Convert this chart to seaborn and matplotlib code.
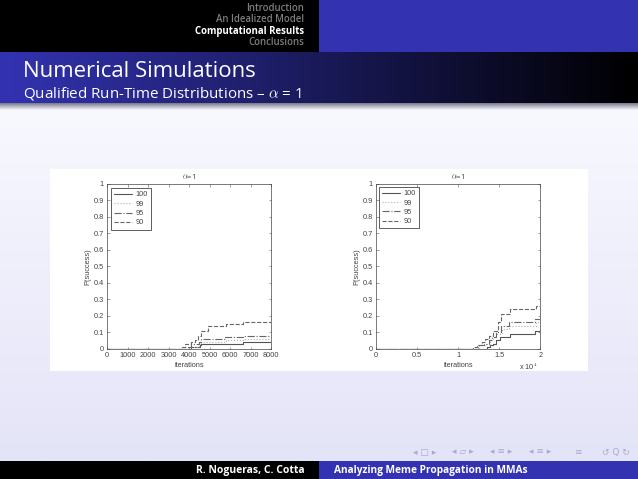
import numpy as np
import pandas as pd
import matplotlib
matplotlib.use("Agg")
import matplotlib.pyplot as plt
from matplotlib.patches import Rectangle
from matplotlib.colors import LinearSegmentedColormap
import seaborn as sns

sns.set_theme(style="white")
plt.rcParams['font.family'] = ['Open Sans', 'DejaVu Sans']
plt.rcParams['mathtext.fontset'] = 'cm'

nav_sections = ["Introduction", "An Idealized Model", "Computational Results", "Conclusions"]
slide_title = "Numerical Simulations"
slide_subtitle = r"Qualified Run-Time Distributions – $\alpha$ = 1"
footer_left = "R. Nogueras, C. Cotta"
footer_right = "Analyzing Meme Propagation in MMAs"

series_names = ["100", "99", "95", "90"]
series_styles = ["-", ":", "-.", "--"]
yticks = [0, .1, .2, .3, .4, .5, .6, .7, .8, .9, 1]
ytick_labels = ["0", "0.1", "0.2", "0.3", "0.4", "0.5", "0.6", "0.7", "0.8", "0.9", "1"]

left_x_100 = [0, 4100, 4550, 4600, 6600, 8000]
left_y_100 = [0, 0.01, 0.02, 0.03, 0.04, 0.04]
left_x_99 = [0, 4000, 4500, 4600, 5800, 6600, 8000]
left_y_99 = [0, 0.01, 0.03, 0.04, 0.05, 0.06, 0.06]
left_x_95 = [0, 3800, 4100, 4500, 4600, 5750, 6600, 8000]
left_y_95 = [0, 0.01, 0.03, 0.04, 0.06, 0.07, 0.08, 0.08]
left_x_90 = [0, 3650, 3800, 4100, 4300, 4450, 4600, 4900, 5800, 6600, 8000]
left_y_90 = [0, 0.01, 0.03, 0.04, 0.05, 0.08, 0.11, 0.14, 0.15, 0.16, 0.16]
left_xticks = [0, 1000, 2000, 3000, 4000, 5000, 6000, 7000, 8000]

right_x_100 = [0, 13500, 13900, 14200, 14600, 15100, 16300, 19300, 20000]
right_y_100 = [0, 0.01, 0.02, 0.03, 0.05, 0.07, 0.09, 0.11, 0.11]
right_x_99 = [0, 12500, 13400, 13900, 14200, 14600, 15300, 16200, 19500, 20000]
right_y_99 = [0, 0.02, 0.03, 0.05, 0.07, 0.09, 0.12, 0.14, 0.16, 0.16]
right_x_95 = [0, 12400, 13200, 13700, 14100, 14600, 15200, 16200, 19400, 20000]
right_y_95 = [0, 0.02, 0.03, 0.05, 0.07, 0.10, 0.14, 0.16, 0.18, 0.18]
right_x_90 = [0, 11800, 12300, 12900, 13300, 13800, 14300, 14800, 15200, 16300, 19500, 20000]
right_y_90 = [0, 0.01, 0.02, 0.04, 0.06, 0.08, 0.11, 0.16, 0.21, 0.24, 0.26, 0.26]
right_xticks = [0, 5000, 10000, 15000, 20000]
right_xtick_labels = ["0", "0.5", "1", "1.5", "2"]

def long_form(xs, ys):
    return pd.concat([pd.DataFrame({"x": x, "y": y, "s": n}) for x, y, n in zip(xs, ys, series_names)])

W, H = 638, 479
fig = plt.figure(figsize=(W / 100, H / 100), dpi=100, facecolor="#e9e9fb")
bg = fig.add_axes([0, 0, 1, 1], zorder=0)
bg.axis("off")

def rect(x, y, w, h, c):
    bg.add_patch(Rectangle((x, y), w, h, fc=c, ec="none", zorder=2))

def shade(extent, colors, horizontal=False):
    ramp = np.linspace(0, 1, 256)
    ramp = ramp[None, :] if horizontal else ramp[:, None]
    bg.imshow(ramp, extent=extent, origin="upper", aspect="auto", zorder=1,
              cmap=LinearSegmentedColormap.from_list("g", colors))

shade([0, W, 461, 110], ["#f8f8ff", "#e4e4f8"])
shade([0, W, 110, 103], ["#77778a", "#f8f8ff"])
shade([0, W, 103, 52], ["#3333b2", "#000000"], horizontal=True)
bg.set_xlim(0, W); bg.set_ylim(H, 0)
rect(0, 0, 319, 52, "#000000")
rect(319, 0, 319, 52, "#3333b2")
rect(0, 461, 319, 18, "#000000")
rect(319, 461, 319, 18, "#3333b2")
rect(50, 169, 538, 202, "#ffffff")

nav_y = [8, 19.5, 31, 42.5]
for t, y in zip(nav_sections, nav_y):
    active = t == "Computational Results"
    bg.text(304, y, t, ha="right", va="center", fontsize=6.9, weight="bold" if active else "semibold",
            color="#ffffff" if active else "#7d7d7d", zorder=3)
bg.text(23, 71, slide_title, fontsize=15.9, color="white", va="center", ha="left", zorder=3)
bg.text(23, 93, slide_subtitle, fontsize=10.9, color="white", va="center", ha="left", zorder=3)
bg.text(305, 470, footer_left, fontsize=7.5, weight="bold", color="white", ha="right", va="center", zorder=3)
bg.text(334, 470, footer_right, fontsize=7.3, weight="bold", color="white", ha="left", va="center", zorder=3)

# faint beamer navigation symbols
for x, t in [(425, "◂ □ ▸"), (463, "◂ ▱ ▸"), (501, "◂ ≡ ▸"), (540, "◂ ≡ ▸"), (578, "≡"), (616, "↺ Q ↻")]:
    bg.text(x, 452, t, fontsize=6.5, color="#a9a9d2", ha="center", va="center", zorder=3,
            family=["DejaVu Sans"])

def panel(x0, x1, xs, ys, xmax, xticks, xlabels, xlabel, loc_offset):
    top, bot = 184, 348.7
    ax = fig.add_axes([x0 / W, 1 - bot / H, (x1 - x0) / W, (bot - top) / H], zorder=2)
    sns.lineplot(data=long_form(xs, ys), x="x", y="y", hue="s", style="s",
                 palette=["#4a4a4a"] * 4, dashes=False, ax=ax, legend=False,
                 drawstyle="steps-post", linewidth=0.8, errorbar=None, estimator=None)
    for line, ls, c in zip(ax.lines, series_styles, ["#555555", "#b0b0b0", "#666666", "#666666"]):
        line.set_linestyle(ls); line.set_color(c)
    ax.set_xlim(0, xmax); ax.set_ylim(0, 1)
    ax.set_xticks(xticks, xlabels); ax.set_yticks(yticks, ytick_labels)
    ax.tick_params(direction="in", labelsize=5.3, length=1.8, width=0.4, pad=2.2,
                   labelcolor="#444444", color="#555555", top=True, right=True,
                   bottom=True, left=True)
    for lab in ax.get_xticklabels() + ax.get_yticklabels():
        lab.set_family("Liberation Sans")
    ax.set_xlabel(xlabel, fontsize=5.3, labelpad=2, color="#444444", family="Liberation Sans")
    ax.set_ylabel("P(success)", fontsize=5.3, labelpad=1.5, color="#444444", family="Liberation Sans")
    ax.set_title(r"$\alpha$=1", fontsize=5.6, pad=3.5, color="#444444")
    for s in ax.spines.values():
        s.set_linewidth(0.5); s.set_color("#444444")
    handles = ax.lines[:4]
    leg = ax.legend(handles, series_names, loc="upper left", frameon=True, fancybox=False,
                    edgecolor="#444444", framealpha=1, borderpad=0.42, labelspacing=0.3,
                    handlelength=2.4, handletextpad=0.5, bbox_to_anchor=loc_offset, borderaxespad=0,
                    labelcolor="#444444", prop={"family": "Liberation Sans", "size": 5.3})
    leg.get_frame().set_linewidth(0.6)
    return ax

panel(107, 271.3, [left_x_100, left_x_99, left_x_95, left_x_90],
      [left_y_100, left_y_99, left_y_95, left_y_90], 8000, left_xticks,
      [str(v) for v in left_xticks], "iterations", (0.025, 0.975))
ax2 = panel(376, 540.3, [right_x_100, right_x_99, right_x_95, right_x_90],
            [right_y_100, right_y_99, right_y_95, right_y_90], 20000, right_xticks,
            right_xtick_labels, "iterations", (0.018, 0.982))
ax2.text(0.985, -0.108, r"x 10$^4$", transform=ax2.transAxes, fontsize=5.3, ha="right", va="center",
         color="#444444", family="Liberation Sans")

fig.savefig("out.png", dpi=100, facecolor=fig.get_facecolor())
